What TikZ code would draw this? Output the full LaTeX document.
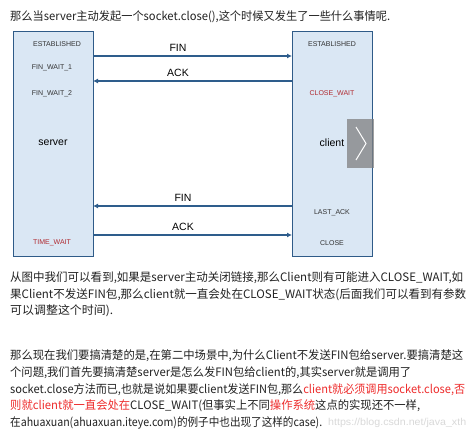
\documentclass[tikz,border=0pt]{standalone}
\usepackage{graphicx}
\usepackage{fontspec}
\setmainfont{Liberation Sans}
\newfontfamily\cjk{Noto Sans CJK SC}
\usetikzlibrary{arrows.meta}

\definecolor{boxfill}{HTML}{DAE7F4}
\definecolor{boxline}{HTML}{2F5B88}
\definecolor{msgline}{HTML}{2E5D8C}
\definecolor{statered}{HTML}{B02A30}
\definecolor{textred}{HTML}{EE2C2C}
\definecolor{bodytext}{HTML}{222222}

\newcommand{\rt}[1]{\textcolor{textred}{#1}}
% squeeze a text line to the width it has in the picture
\newcommand{\fitline}[2]{\resizebox{#1pt}{\height}{#2}}

\begin{document}
\begin{tikzpicture}[x=1pt,y=-1pt,
  peer/.style={draw=boxline, fill=boxfill, line width=0.9pt},
  msg/.style={line width=1.2pt, msgline, -{Latex[length=5pt,width=5pt]}},
  msglabel/.style={font=\fontsize{10.5}{12}\selectfont, text=black, inner sep=0pt},
  state/.style={font=\fontsize{7}{8}\selectfont, text=black!80, inner sep=0pt},
  redstate/.style={state, text=statered},
  who/.style={font=\fontsize{10.5}{12}\selectfont, text=black, inner sep=0pt},
  line/.style={anchor=west, inner sep=0pt, font=\cjk\fontsize{11.6}{13}\selectfont, text=bodytext}]
\useasboundingbox (0,0) rectangle (474,434);
\fill[white] (0,0) rectangle (474,434);

% intro line
\node[line] (intro) at (10,17) {\fitline{380}{那么当server主动发起一个socket.close(),这个时候又发生了一些什么事情呢.}};

% the two peers
\draw[peer] (13,31) rectangle (93,256);
\draw[peer] (292,31) rectangle (372,256);
\coordinate (s1) at (93,56);
\coordinate (c1) at (292,56);
\coordinate (s2) at (93,81);
\coordinate (c2) at (292,81);
\coordinate (s3) at (93,206);
\coordinate (c3) at (292,206);
\coordinate (s4) at (93,235);
\coordinate (c4) at (292,235);

\node[state] (sest) at (57,44) {ESTABLISHED};
\node[state] (sfw1) at (52,68) {FIN\_WAIT\_1};
\node[state] (sfw2) at (52,94) {FIN\_WAIT\_2};
\node[who] (server) at (53,143) {server};
\node[redstate] (stw) at (52,243) {TIME\_WAIT};

\node[state] (cest) at (332,44) {ESTABLISHED};
\node[redstate] (ccw) at (332,94) {CLOSE\_WAIT};
\node[who] (client) at (332,143) {client};
\node[state] (clast) at (332,213) {LAST\_ACK};
\node[state] (cclose) at (332,243) {CLOSE};

% messages
\draw[msg] (s1) -- (c1);
\draw[msg] (c2) -- (s2);
\draw[msg] (c3) -- (s3);
\draw[msg] (s4) -- (c4);
\node[msglabel] (fin1) at (178,48) {FIN};
\node[msglabel] (ack1) at (178,73) {ACK};
\node[msglabel] (fin2) at (183,198) {FIN};
\node[msglabel] (ack2) at (183,227) {ACK};

% viewer arrow on top of the picture
\fill[gray, opacity=0.75] (347,119) rectangle (374,168);
\draw[white, line width=1pt] (356,127) -- (366,143.5) -- (356,160);

% text below
\node[line] (p1a) at (10,278) {\fitline{453}{从图中我们可以看到,如果是server主动关闭链接,那么Client则有可能进入CLOSE\_WAIT,如}};
\node[line] (p1b) at (10,295) {\fitline{456}{果Client不发送FIN包,那么client就一直会处在CLOSE\_WAIT状态(后面我们可以看到有参数}};
\node[line] (p1c) at (10,311) {\fitline{103}{可以调整这个时间).}};

\node[line] (p2a) at (10,356) {\fitline{453}{那么现在我们要搞清楚的是,在第二中场景中,为什么Client不发送FIN包给server.要搞清楚这}};
\node[line] (p2b) at (10,373) {\fitline{401}{个问题,我们首先要搞清楚server是怎么发FIN包给client的,其实server就是调用了}};
\node[line] (p2c) at (10,390) {\fitline{455}{socket.close方法而已,也就是说如果要client发送FIN包,那么\rt{client就必须调用socket.close,否}}};
\node[line] (p2d) at (10,406) {\fitline{410}{\rt{则就client就一直会处在}CLOSE\_WAIT(但事实上不同\rt{操作系统}这点的实现还不一样,}};
\node[line] (p2e) at (10,423) {\fitline{312}{在ahuaxuan(ahuaxuan.iteye.com)的例子中也出现了这样的case).}};
\node[anchor=west, inner sep=0pt, font=\fontsize{10}{12}\selectfont, text=black!15] (mark) at (328,423) {\fitline{138}{https://blog.csdn.net/java\_xth}};
\end{tikzpicture}
\end{document}
